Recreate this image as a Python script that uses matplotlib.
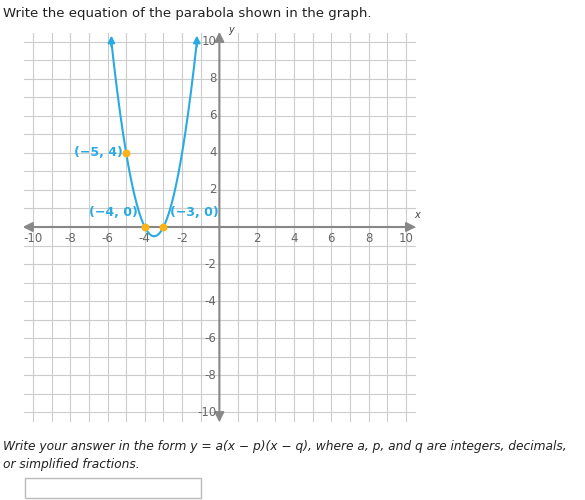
import numpy as np
import matplotlib
matplotlib.use("Agg")
import matplotlib.pyplot as plt
from matplotlib.patches import Rectangle

a = 2
roots = [-4, -3]
points_x = [-5, -4, -3]
points_y = [4, 0, 0]
point_labels = ["(\u22125, 4)", "(\u22124, 0)", "(\u22123, 0)"]
ticks = [-10, -8, -6, -4, -2, 2, 4, 6, 8, 10]

fig = plt.figure(figsize=(5.85, 5.0), dpi=100)
fig.text(0.005, 0.985, "Write the equation of the parabola shown in the graph.", fontsize=9.5, va="top", color="#222222")
ax = fig.add_axes([0.034, 0.15, 0.682, 0.792])
ax.set_xlim(-10.7, 10.7)
ax.set_ylim(-10.7, 10.7)
ax.axis("off")
for v in range(-10, 11):
    ax.plot([v, v], [-10.5, 10.5], color="#cccccc", lw=0.8, zorder=0)
    ax.plot([-10.5, 10.5], [v, v], color="#cccccc", lw=0.8, zorder=0)
ax.annotate("", xy=(10.7, 0), xytext=(-10.7, 0), arrowprops=dict(arrowstyle="<|-|>", color="#888888", lw=1.5, mutation_scale=14))
ax.annotate("", xy=(0, 10.7), xytext=(0, -10.7), arrowprops=dict(arrowstyle="<|-|>", color="#888888", lw=1.5, mutation_scale=14))
ax.text(10.45, 0.5, "x", fontsize=7, style="italic", color="#444444")
ax.text(0.45, 10.5, "y", fontsize=7, style="italic", color="#444444")
for t in ticks:
    ax.text(t, -0.25, str(t), ha="center", va="top", fontsize=8.5, color="#666666")
    ax.text(-0.15, t, str(t), ha="right", va="center", fontsize=8.5, color="#666666")

x1 = (-7 - np.sqrt(21)) / 2
x2 = (-7 + np.sqrt(21)) / 2
xs = np.linspace(x1, x2, 300)
ys = a * (xs - roots[0]) * (xs - roots[1])
ax.plot(xs, ys, color="#29abe2", lw=1.5, zorder=3)
for xe in (x1, x2):
    ax.annotate("", xy=(xe, 10.5), xytext=(xe, 9.6), arrowprops=dict(arrowstyle="-|>", color="#29abe2", lw=1.5, mutation_scale=10))
ax.scatter(points_x, points_y, s=22, color="#fbb316", zorder=4)
offsets = [(-0.2, 0, "right", "center"), (-0.35, 0.45, "right", "bottom"), (0.35, 0.45, "left", "bottom")]
for px, py, lab, (dx, dy, ha, va) in zip(points_x, points_y, point_labels, offsets):
    ax.text(px + dx, py + dy, lab, ha=ha, va=va, fontsize=9, fontweight="bold", color="#29abe2", zorder=5)

fig.text(0.005, 0.12, "Write your answer in the form y = a(x \u2212 p)(x \u2212 q), where a, p, and q are integers, decimals,\nor simplified fractions.",
         fontsize=8.8, style="italic", va="top", color="#222222", linespacing=1.5)
fig.patches.append(Rectangle((0.043, 0.005), 0.3, 0.04, transform=fig.transFigure, fc="white", ec="#bbbbbb", lw=1))
fig.savefig("out.png", dpi=100)
